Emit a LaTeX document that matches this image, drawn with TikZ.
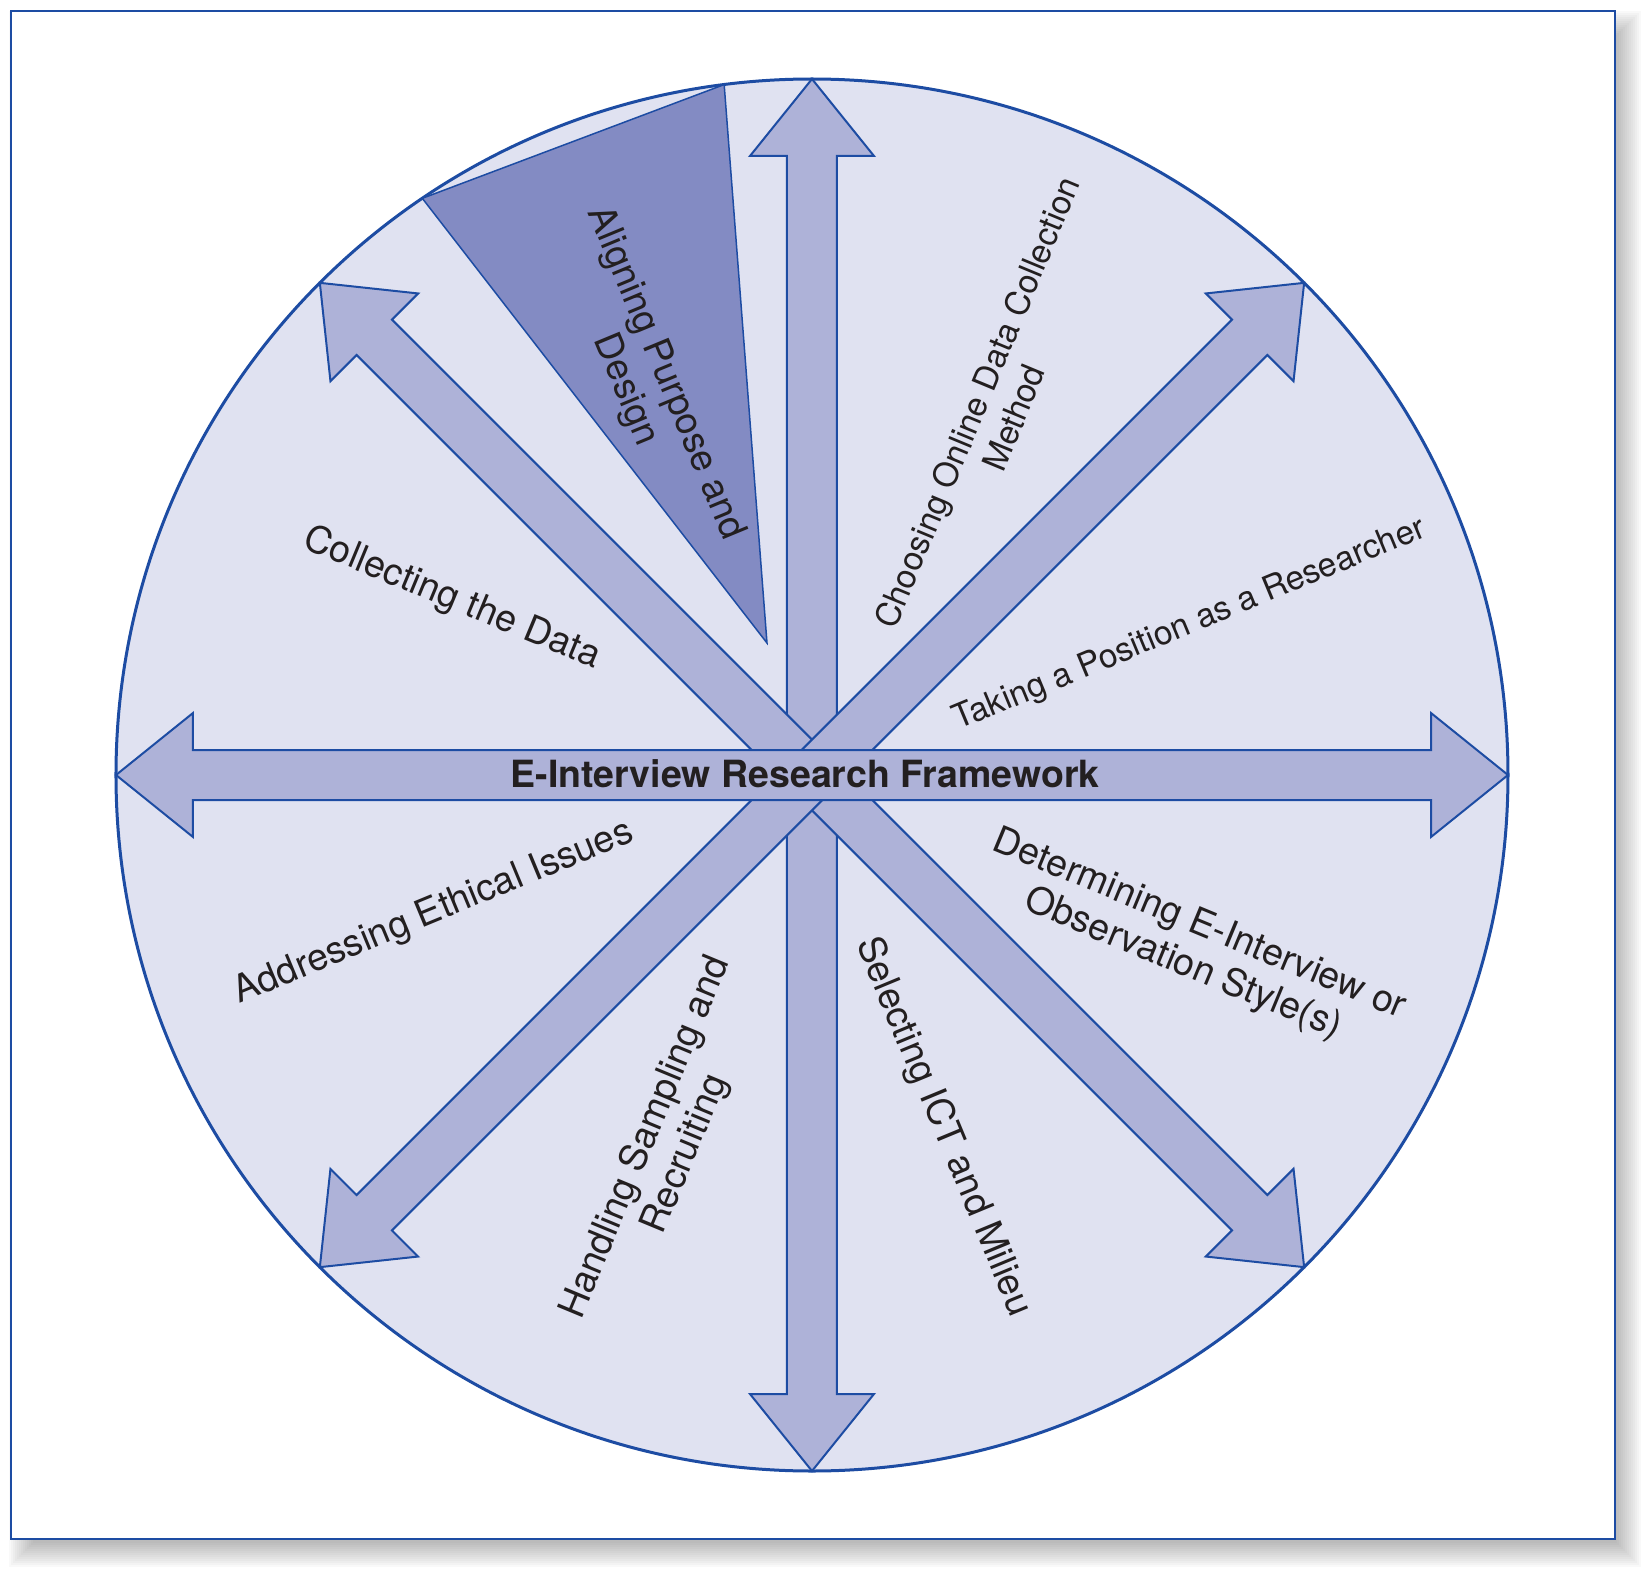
\documentclass[tikz,border=0pt]{standalone}
\usepackage{fontspec}
\setmainfont{TeX Gyre Heros}
\definecolor{rimblue}{HTML}{1D4CA3}
\definecolor{discfill}{HTML}{E0E2F1}
\definecolor{arrowfill}{HTML}{AEB2D8}
\definecolor{wedgefill}{HTML}{838BC3}
\definecolor{inkgrey}{HTML}{231F20}
\tikzset{
    sectortext/.style={inner sep=0pt, align=center, text=inkgrey,
        font=\fontsize{37.5}{43}\selectfont},
    smallsector/.style={font=\fontsize{33.5}{40}\selectfont},
    titletext/.style={inner sep=0pt, text=inkgrey,
        font=\fontsize{37.5}{43}\selectfont\bfseries},
    arrowshape/.style={fill=arrowfill, draw=rimblue, line width=2pt, line join=miter},
}
\begin{document}
\begin{tikzpicture}[x=1pt,y=1pt]
    \useasboundingbox (-812,-800) rectangle (840,775);
    % shadow and frame
    \foreach \e in {0,2,...,24}
        \fill[black, opacity=0.025] (-779-\e,740+\e) rectangle (805+\e,-768-\e);
    \draw[fill=white, draw=rimblue, line width=2.5pt] (-801,764) rectangle (803,-764);

    % the disc and the dark wedge
    \draw[fill=discfill, draw=rimblue, line width=3pt] (0,0) circle (696);
    \draw[fill=wedgefill, draw=rimblue, line width=1.5pt, line join=miter]
        (124.05:696) -- (97.25:696) -- (-45,132) -- cycle;

    % four double arrows (last one on top)
    \foreach \ang in {90,135,45,0}
        \draw[arrowshape, rotate=\ang] (696,0) -- (619,62) -- (619,25) -- (-619,25)
            -- (-619,62) -- (-696,0) -- (-619,-62) -- (-619,-25) -- (619,-25)
            -- (619,-62) -- cycle;

    % sector labels
    \node[sectortext, rotate=-67.5] (align) at (-167,393) {Aligning Purpose and\\Design};
    \node[sectortext, smallsector, rotate=67.5] (method) at (183,365) {Choosing Online Data Collection\\Method};
    \node[sectortext, smallsector, rotate=22.5] (position) at (378,150) {Taking a Position as a Researcher};
    \node[sectortext, rotate=-22.5] (style) at (379,-170) {Determining E-Interview or\\Observation Style(s)};
    \node[sectortext, rotate=-67.5] (ict) at (131,-352) {Selecting ICT and Milieu};
    \node[sectortext, rotate=67.5] (sampling) at (-146,-371) {Handling Sampling and\\Recruiting};
    \node[sectortext, rotate=22.5] (ethics) at (-378,-138) {Addressing Ethical Issues};
    \node[sectortext, rotate=-22.5] (collect) at (-360,176) {Collecting the Data};

    \node[titletext] (title) at (-7,1) {E-Interview Research Framework};
\end{tikzpicture}
\end{document}
